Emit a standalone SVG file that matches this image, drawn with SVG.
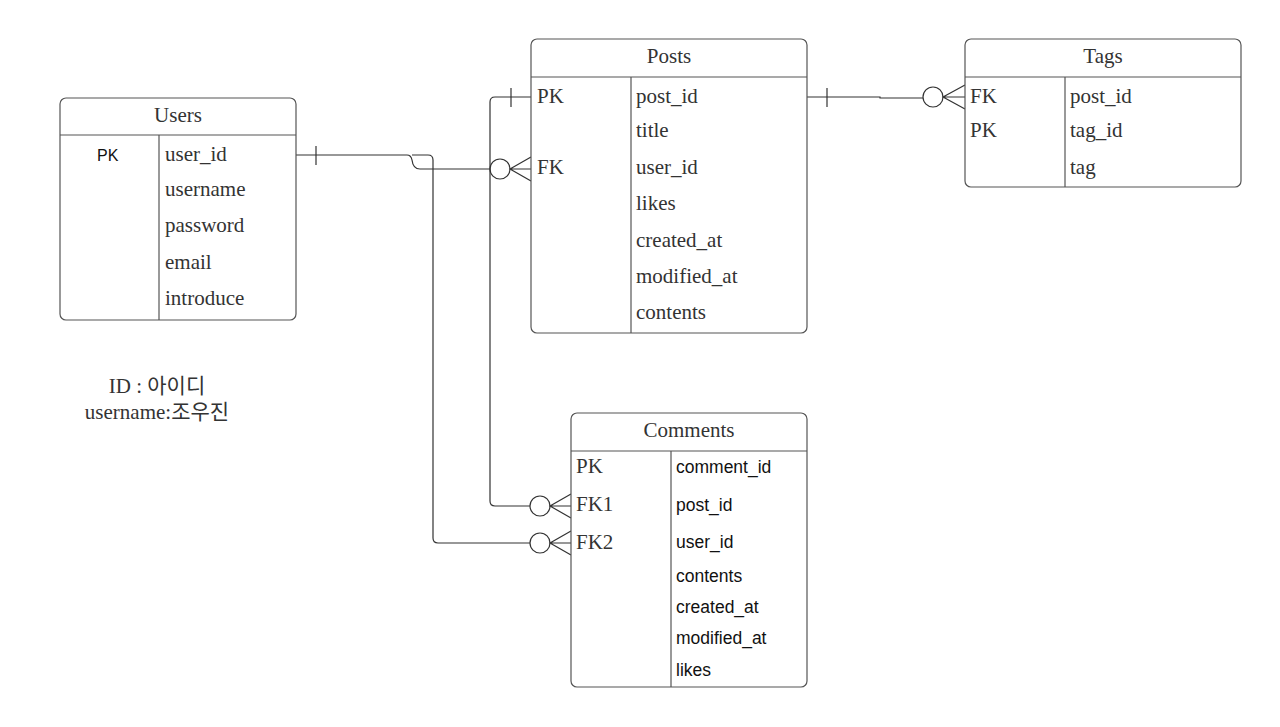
<svg xmlns="http://www.w3.org/2000/svg" width="1280" height="727" viewBox="0 0 1280 727">
<style>
.box{fill:#fff;stroke:#555;stroke-width:1.2}
.ln{stroke:#555;stroke-width:1.2}
.t{font-family:"Liberation Serif",serif;font-size:21px;fill:#333}
.s{font-family:"Liberation Sans",sans-serif;font-size:17.5px;fill:#111}
.h{text-anchor:middle}
.c{fill:none;stroke:#333;stroke-width:1.2}
</style>
<rect width="1280" height="727" fill="#fff"/>
<g id="connectors" class="c">
<path d="M296 155 H407 Q411 155 412 160 Q413 169 420 169 H490"/>
<path d="M412 155 H428 Q433 155 433 160 V538 Q433 543 438 543 H530"/>
<path d="M531 97 H495 Q490 97 490 102 V501 Q490 506 495 506 H530"/>
<line x1="316" y1="146" x2="316" y2="165"/>
<line x1="511" y1="88" x2="511" y2="107"/>
<circle cx="500" cy="169" r="10"/><path d="M531 157 L510 169 L531 181 M510 169 H531"/>
<circle cx="540" cy="506" r="10"/><path d="M571 494 L550 506 L571 518 M550 506 H571"/>
<circle cx="540" cy="543" r="10"/><path d="M571 531 L550 543 L571 555 M550 543 H571"/>
<path d="M807 97 H880 V98 H923"/>
<line x1="827" y1="88" x2="827" y2="107"/>
<circle cx="933" cy="97" r="10"/><path d="M965 85 L943 97 L965 109 M943 97 H965"/>
</g>
<g id="users">
<rect class="box" x="60" y="98" width="236" height="222" rx="6"/>
<line class="ln" x1="60" y1="135" x2="296" y2="135"/><line class="ln" x1="159" y1="135" x2="159" y2="320"/>
<text class="t h" x="178" y="122">Users</text>
<text class="s" x="97" y="161" style="font-size:16px">PK</text>
<text class="t" x="165" y="161">user_id</text><text class="t" x="165" y="196">username</text><text class="t" x="165" y="232">password</text><text class="t" x="165" y="269">email</text><text class="t" x="165" y="305">introduce</text>
</g>
<g id="posts">
<rect class="box" x="531" y="39" width="276" height="294" rx="6"/>
<line class="ln" x1="531" y1="77" x2="807" y2="77"/><line class="ln" x1="631" y1="77" x2="631" y2="333"/>
<text class="t h" x="669" y="63">Posts</text>
<text class="t" x="537" y="103">PK</text><text class="t" x="537" y="174">FK</text>
<text class="t" x="636" y="103">post_id</text><text class="t" x="636" y="137">title</text><text class="t" x="636" y="174">user_id</text><text class="t" x="636" y="210">likes</text><text class="t" x="636" y="247">created_at</text><text class="t" x="636" y="283">modified_at</text><text class="t" x="636" y="319">contents</text>
</g>
<g id="tags">
<rect class="box" x="965" y="39" width="276" height="148" rx="6"/>
<line class="ln" x1="965" y1="77" x2="1241" y2="77"/><line class="ln" x1="1065" y1="77" x2="1065" y2="187"/>
<text class="t h" x="1103" y="63">Tags</text>
<text class="t" x="970" y="103">FK</text><text class="t" x="970" y="137">PK</text>
<text class="t" x="1070" y="103">post_id</text><text class="t" x="1070" y="137">tag_id</text><text class="t" x="1070" y="174">tag</text>
</g>
<g id="comments">
<rect class="box" x="571" y="413" width="236" height="274" rx="6"/>
<line class="ln" x1="571" y1="451" x2="807" y2="451"/><line class="ln" x1="671" y1="451" x2="671" y2="687"/>
<text class="t h" x="689" y="437">Comments</text>
<text class="t" x="576" y="473">PK</text><text class="t" x="576" y="511">FK1</text><text class="t" x="576" y="549">FK2</text>
<text class="s" x="676" y="473">comment_id</text><text class="s" x="676" y="511">post_id</text><text class="s" x="676" y="548">user_id</text><text class="s" x="676" y="582">contents</text><text class="s" x="676" y="613">created_at</text><text class="s" x="676" y="644">modified_at</text><text class="s" x="676" y="676">likes</text>
</g>
<g id="note">
<text class="t h" x="157" y="393" style="font-family:'Liberation Serif','Noto Sans CJK KR',serif">ID : 아이디</text>
<text class="t h" x="157" y="419" style="font-family:'Liberation Serif','Noto Sans CJK KR',serif">username:조우진</text>
</g>
</svg>
